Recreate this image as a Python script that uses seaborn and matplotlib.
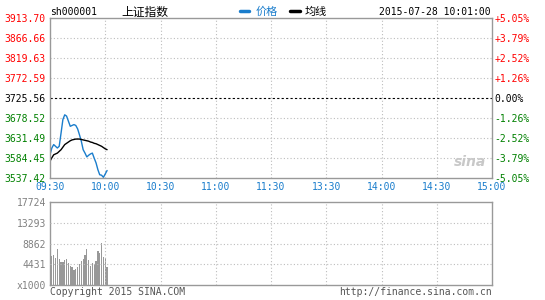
import matplotlib
matplotlib.use("Agg")
import matplotlib.pyplot as plt
from matplotlib.lines import Line2D
import numpy as np
import pandas as pd
import seaborn as sns

# ---- data ----
minutes = list(range(32))
price = [3592, 3608, 3616, 3612, 3608, 3612, 3643, 3675, 3686, 3683,
         3671, 3659, 3661, 3663, 3661, 3653, 3639, 3624, 3604, 3596,
         3587, 3591, 3594, 3596, 3584, 3573, 3557, 3545, 3544, 3539,
         3547, 3555]
avg_price = [3577, 3585, 3592, 3594, 3596, 3600, 3604, 3610, 3616, 3619,
             3622, 3625, 3627, 3628, 3629, 3629, 3629, 3628, 3627, 3626,
             3625, 3624, 3622, 3621, 3619, 3618, 3616, 3614, 3612, 3609,
             3606, 3604]
volume = [7030, 6120, 6330, 5770, 7600, 5500, 5000, 4850, 5270, 5560,
          4710, 4010, 3870, 3170, 3520, 3900, 4430, 5130, 5490, 6330,
          7600, 5280, 4080, 4600, 4430, 5060, 7170, 6820, 8930, 5980,
          5840, 3870]
prev_close = 3725.56
price_ticks = [3537.42, 3584.45, 3631.49, 3678.52, 3725.56,
               3772.59, 3819.63, 3866.66, 3913.70]
pct_labels = ["-5.05%", "-3.79%", "-2.52%", "-1.26%", "0.00%",
              "+1.26%", "+2.52%", "+3.79%", "+5.05%"]
time_labels = ["09:30", "10:00", "10:30", "11:00", "11:30",
               "13:30", "14:00", "14:30", "15:00"]
vol_ticks = [0, 4431, 8862, 13293, 17724]
vol_labels = ["x1000", "4431", "8862", "13293", "17724"]

df = pd.DataFrame({"minute": minutes, "price": price,
                   "avg": avg_price, "volume": volume})

sns.set_style("white")
plt.rcParams["font.family"] = ["DejaVu Sans Mono", "Noto Sans CJK SC"]

W, H = 545, 300
fig = plt.figure(figsize=(W / 100, H / 100), dpi=100)

def box(l, t, r, b):
    return [l / W, 1 - b / H, (r - l) / W, (b - t) / H]

ax = fig.add_axes(box(50, 18, 492, 178))
axv = fig.add_axes(box(50, 202, 492, 285))

BLUE = "#1a7dcc"
RED = "#ff0000"
GREEN = "#008000"
GRID = "#bdbdbd"
SPINE = "#999999"

# main chart
sns.lineplot(data=df, x="minute", y="price", ax=ax, color=BLUE, lw=1.0)
sns.lineplot(data=df, x="minute", y="avg", ax=ax, color="black", lw=1.0)
ax.set_xlim(0, 240)
ax.set_ylim(price_ticks[0], price_ticks[-1])
ax.set_xticks(range(0, 241, 30))
ax.set_xticklabels(time_labels, color=BLUE, fontsize=7)
ax.set_yticks(price_ticks)
ax.set_yticklabels([f"{v:.2f}" for v in price_ticks], fontsize=7)
for i, t in enumerate(ax.get_yticklabels()):
    t.set_color(GREEN if i < 4 else ("black" if i == 4 else RED))
ax.tick_params(length=0, pad=3)
ax.set_xlabel("")
ax.set_ylabel("")
for x in range(30, 240, 30):
    ax.axvline(x, color=GRID, lw=0.8, ls=(0, (1, 2)), zorder=0)
for v in price_ticks[1:-1]:
    if abs(v - prev_close) < 0.01:
        ax.axhline(v, color="black", lw=0.8, ls=(0, (2, 2)), zorder=0)
    else:
        ax.axhline(v, color=GRID, lw=0.8, ls=(0, (1, 2)), zorder=0)
for s in ax.spines.values():
    s.set_color(SPINE)
    s.set_linewidth(1)

tw = ax.twinx()
tw.set_ylim(price_ticks[0], price_ticks[-1])
tw.set_yticks(price_ticks)
tw.set_yticklabels(pct_labels, fontsize=7)
for i, t in enumerate(tw.get_yticklabels()):
    t.set_color(GREEN if i < 4 else ("black" if i == 4 else RED))
tw.tick_params(length=0, pad=2)
for s in tw.spines.values():
    s.set_visible(False)

# volume chart
sns.barplot(data=df, x="minute", y="volume", ax=axv, native_scale=True,
            color="#999999", width=0.7, saturation=1, edgecolor="none")
axv.set_xlim(0, 240)
axv.set_ylim(0, 17724)
axv.set_xticks(range(0, 241, 30))
axv.set_xticklabels([])
axv.set_yticks(vol_ticks)
axv.set_yticklabels(vol_labels, fontsize=7, color="#808080")
axv.tick_params(length=0, pad=3)
axv.set_xlabel("")
axv.set_ylabel("")
for x in range(30, 240, 30):
    axv.axvline(x, color=GRID, lw=0.8, ls=(0, (1, 2)), zorder=3)
for v in vol_ticks[1:-1]:
    axv.axhline(v, color=GRID, lw=0.8, ls=(0, (1, 2)), zorder=3)
for s in axv.spines.values():
    s.set_color(SPINE)
    s.set_linewidth(1)

# header
def fx(x):
    return x / W

def fy(y):
    return 1 - y / H

fig.text(fx(50), fy(12), "sh000001", fontsize=7, va="center", ha="left",
         color="black")
fig.text(fx(121), fy(12), "上证指数", fontsize=8.5, va="center", ha="left",
         color="black", family=["Noto Sans CJK SC", "DejaVu Sans"])
fig.add_artist(Line2D([fx(240), fx(249)], [fy(11), fy(11)], color=BLUE,
                      lw=2.5, transform=fig.transFigure))
fig.text(fx(256), fy(12), "价格", fontsize=8, va="center", ha="left",
         color=BLUE, family=["Noto Sans CJK SC", "DejaVu Sans"])
fig.add_artist(Line2D([fx(290), fx(300)], [fy(11), fy(11)], color="black",
                      lw=2.5, transform=fig.transFigure))
fig.text(fx(305), fy(12), "均线", fontsize=8, va="center", ha="left",
         color="black", family=["Noto Sans CJK SC", "DejaVu Sans"])
fig.text(fx(491), fy(12), "2015-07-28 10:01:00", fontsize=7, va="center",
         ha="right", color="black")

# footer
fig.text(fx(50), fy(292), "Copyright 2015 SINA.COM", fontsize=7,
         va="center", ha="left", color="#555555")
fig.text(fx(492), fy(292), "http://finance.sina.com.cn", fontsize=7,
         va="center", ha="right", color="#555555")

# watermark
fig.text(fx(470), fy(162), "sina", fontsize=10, va="center", ha="center",
         color="#c8c8c8", style="italic", weight="bold",
         family=["DejaVu Sans"])

fig.savefig("out.png", dpi=100)
